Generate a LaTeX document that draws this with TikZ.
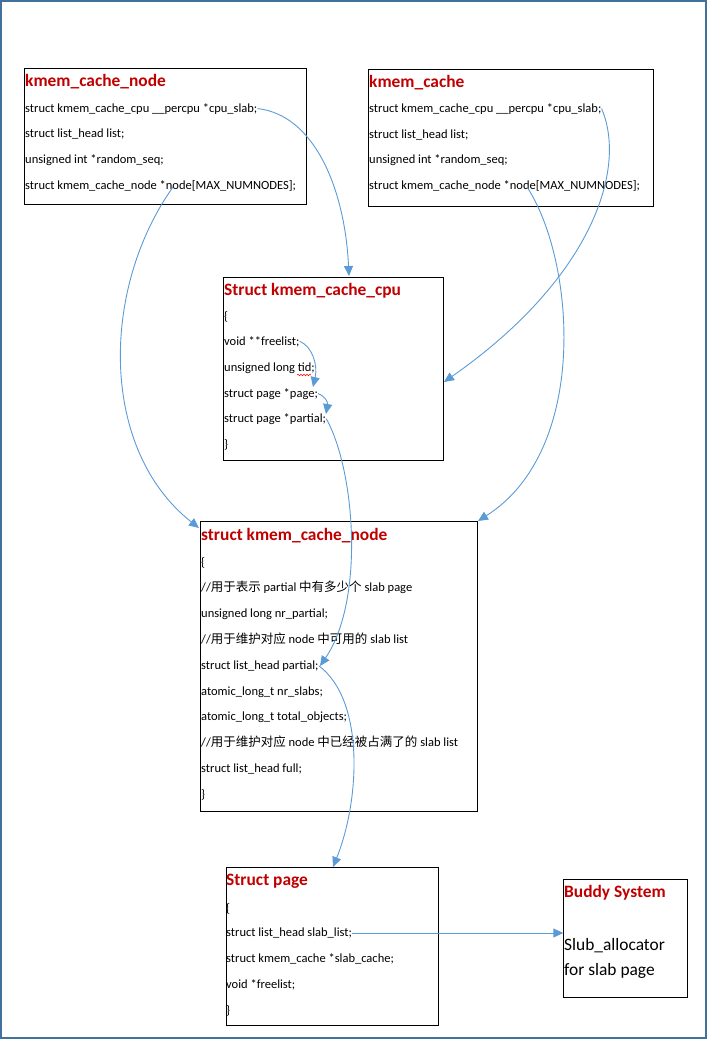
\documentclass[tikz,border=0pt]{standalone}
\usepackage{fontspec}
\setmainfont{Carlito}
\newfontfamily\cjk{Noto Sans CJK SC}
\usetikzlibrary{arrows.meta,decorations.pathmorphing}
\definecolor{titlered}{HTML}{C00000}
\definecolor{arrowblue}{HTML}{5B9BD5}
\definecolor{framblue}{HTML}{41719C}
\tikzset{
  box/.style={draw=black, line width=1.1pt, anchor=north west, inner sep=0pt},
  txt/.style={anchor=base west, inner sep=0pt, font=\fontsize{12.5}{14}\selectfont},
  ttl/.style={anchor=base west, inner sep=0pt, text=titlered, font=\fontsize{17.4}{20}\selectfont\bfseries},
  big/.style={anchor=base west, inner sep=0pt, font=\fontsize{17.4}{20}\selectfont},
  arr/.style={draw=arrowblue, line width=0.9pt, -{Triangle[length=10pt,width=9pt]}},
}
\begin{document}
\begin{tikzpicture}[x=1pt,y=-1pt]
\useasboundingbox (0,0) rectangle (707,1039);
\draw[framblue, line width=2.2pt] (1,1) rectangle (706,1038);

% box 1
\node[box, minimum width=281.3pt, minimum height=136pt] (b1) at (24.3,68.3) {};
\node[ttl] (b1t) at (25,86) {kmem\_cache\_node};
\node[txt] (b1a) at (25,112) {struct kmem\_cache\_cpu \_\_percpu *cpu\_slab;};
\node[txt] (b1b) at (25,137) {struct list\_head list;};
\node[txt] (b1c) at (25,163) {unsigned int *random\_seq;};
\node[txt] (b1d) at (25,189) {struct kmem\_cache\_node *node[MAX\_NUMNODES];};

% box 2
\node[box, minimum width=285pt, minimum height=136.7pt] (b2) at (368.3,69.3) {};
\node[ttl] (b2t) at (369,87) {kmem\_cache};
\node[txt] (b2a) at (369,112) {struct kmem\_cache\_cpu \_\_percpu *cpu\_slab;};
\node[txt] (b2b) at (369,138) {struct list\_head list;};
\node[txt] (b2c) at (369,163) {unsigned int *random\_seq;};
\node[txt] (b2d) at (369,189) {struct kmem\_cache\_node *node[MAX\_NUMNODES];};

% box 3
\node[box, minimum width=220pt, minimum height=183.3pt] (b3) at (223.3,276.7) {};
\node[ttl] (b3t) at (224,295) {Struct kmem\_cache\_cpu};
\node[txt] (b3a) at (224,320) {\{};
\node[txt] (b3b) at (224,345) {void **freelist;};
\node[txt] (b3c) at (224,371) {unsigned long tid;};
\node[txt] (b3d) at (224,397) {struct page *page;};
\node[txt] (b3e) at (224,422) {struct page *partial;};
\node[txt] (b3f) at (224,448) {\}};
\draw[red, line width=0.5pt, decorate, decoration={snake, amplitude=0.8pt, segment length=3pt}] (297,375) -- (311,375);

% box 4
\node[box, minimum width=276.7pt, minimum height=290pt] (b4) at (200,521) {};
\node[ttl] (b4t) at (201,540) {struct kmem\_cache\_node};
\node[txt] (b4a) at (201,566.5) {\{};
\node[txt] (b4b) at (201,591.5) {//{\cjk 用于表示} partial {\cjk 中有多少个} slab page};
\node[txt] (b4c) at (201,617) {unsigned long nr\_partial;};
\node[txt] (b4d) at (201,643) {//{\cjk 用于维护对应} node {\cjk 中可用的} slab list};
\node[txt] (b4e) at (201,669) {struct list\_head partial;};
\node[txt] (b4f) at (201,695) {atomic\_long\_t nr\_slabs;};
\node[txt] (b4g) at (201,720.5) {atomic\_long\_t total\_objects;};
\node[txt] (b4h) at (201,746.5) {//{\cjk 用于维护对应} node {\cjk 中已经被占满了的} slab list};
\node[txt] (b4i) at (201,772) {struct list\_head full;};
\node[txt] (b4j) at (201,798) {\}};

% box 5
\node[box, minimum width=212.6pt, minimum height=157.7pt] (b5) at (225.7,867.3) {};
\node[ttl] (b5t) at (226,885) {Struct page};
\node[txt] (b5a) at (226,912) {\{};
\node[txt] (b5b) at (226,936.5) {struct list\_head slab\_list;};
\node[txt] (b5c) at (226,962) {struct kmem\_cache *slab\_cache;};
\node[txt] (b5d) at (226,988) {void *freelist;};
\node[txt] (b5e) at (226,1014) {\}};

% box 6
\node[box, minimum width=123.4pt, minimum height=117.4pt] (b6) at (563.3,879.3) {};
\node[ttl] (b6t) at (564,897) {Buddy System};
\node[big] (b6a) at (564,950) {Slub\_allocator};
\node[big] (b6b) at (564,975.5) {for slab page};

% connector end points and free starts
\coordinate (s1d) at (173,187);
\coordinate (s2d) at (527,187);
\coordinate (eA) at (349,276);
\coordinate (eB) at (199,528);
\coordinate (eC) at (444,382);
\coordinate (eD) at (478,521);
\coordinate (eE) at (313,387);
\coordinate (eF) at (326,414);
\coordinate (eG) at (320,666);
\coordinate (eH) at (333,867);

\draw[arr] (b1a.east) .. controls (315,115) and (345,190) .. (eA);
\draw[arr] (s1d) .. controls (100,290) and (100,450) .. (eB);
\draw[arr] (b2a.east) .. controls (628,170) and (590,280) .. (eC);
\draw[arr] (s2d) .. controls (575,260) and (590,450) .. (eD);
\draw[arr] (b3b.east) .. controls (312,346) and (318,365) .. (eE);
\draw[arr] (b3d.east) .. controls (325,396) and (328,402) .. (eF);
\draw[arr] (b3e.east) .. controls (355,470) and (365,600) .. (eG);
\draw[arr] (b4e.east) .. controls (365,700) and (360,800) .. (eH);
\draw[arr] (b5b.east) -- (b6.west |- b5b.east);
\end{tikzpicture}
\end{document}
